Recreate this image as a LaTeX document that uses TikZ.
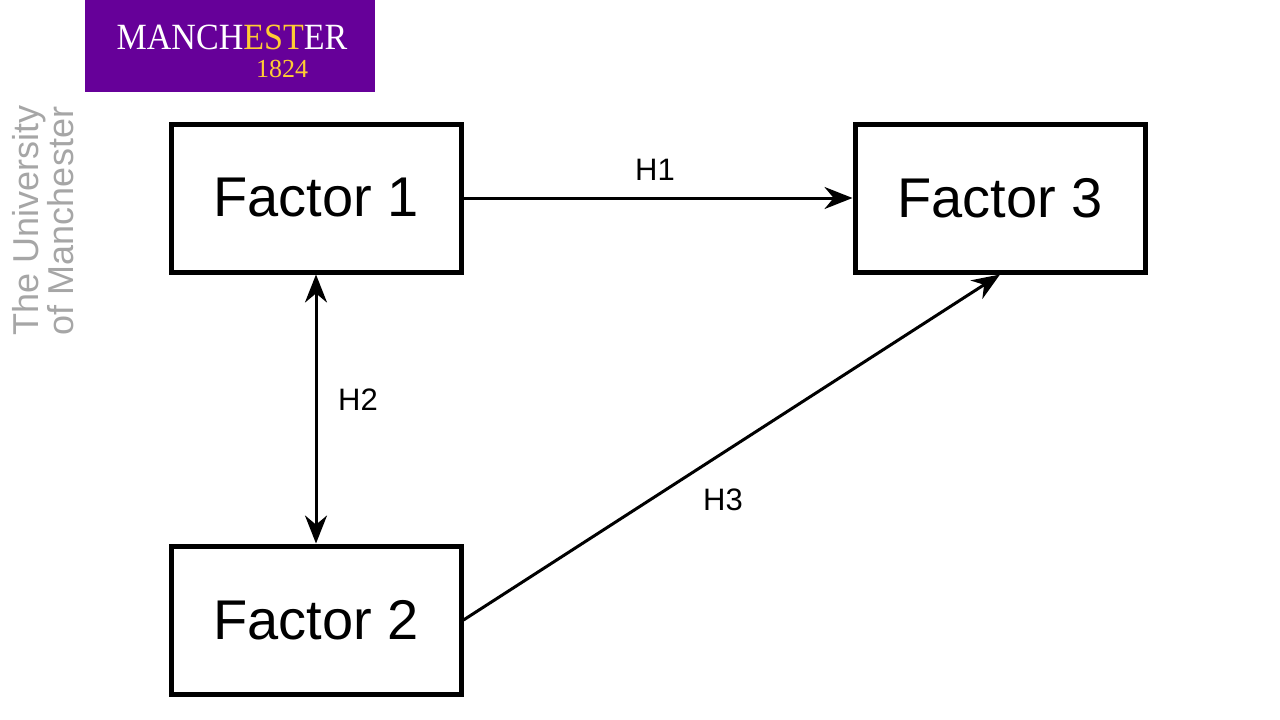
\documentclass[tikz,border=0pt]{standalone}
\usepackage{fontspec}
\setmainfont{Liberation Sans}
\newfontfamily\logofont{Liberation Serif}
\usetikzlibrary{arrows.meta}
\definecolor{mpurple}{HTML}{660099}
\definecolor{mgold}{HTML}{FFCC33}
\begin{document}
\begin{tikzpicture}[x=1pt,y=-1pt,
  box/.style={draw,line width=5pt,minimum width=290pt,minimum height=148pt,font=\fontsize{56}{64}\selectfont},
  arr/.style={line width=3pt,-{Stealth[length=28pt,width=22pt]}},
  lab/.style={font=\fontsize{31}{36}\selectfont}]
\useasboundingbox (0,0) rectangle (1280,720);
\fill[mpurple] (85,0) rectangle (375,92);
\node[text=white,font=\logofont\fontsize{37}{40}\selectfont,inner sep=0,xscale=0.92] (logo) at (232,37) {MANCH\textcolor{mgold}{EST}ER};
\node[text=mgold,font=\logofont\fontsize{26}{30}\selectfont,inner sep=0] (year) at (282,69) {1824};
\node[rotate=90,text=gray!70,align=left,font=\fontsize{36}{32}\selectfont,inner sep=0] (univ) at (43,220) {The University\\of Manchester};
\node[box] (f1) at (316,198) {Factor 1};
\node[box] (f3) at (1000,198) {Factor 3};
\node[box] (f2) at (316,620) {Factor 2};
\draw[arr] (f1.east) -- (f3.west);
\node[lab] (h1) at (655,170) {H1};
\draw[line width=3pt,{Stealth[length=28pt,width=22pt]}-{Stealth[length=28pt,width=22pt]}] (f1.south) -- (f2.north);
\node[lab] (h2) at (358,400) {H2};
\draw[arr] (f2.east) -- (f3.south);
\node[lab] (h3) at (723,500) {H3};
\end{tikzpicture}
\end{document}
